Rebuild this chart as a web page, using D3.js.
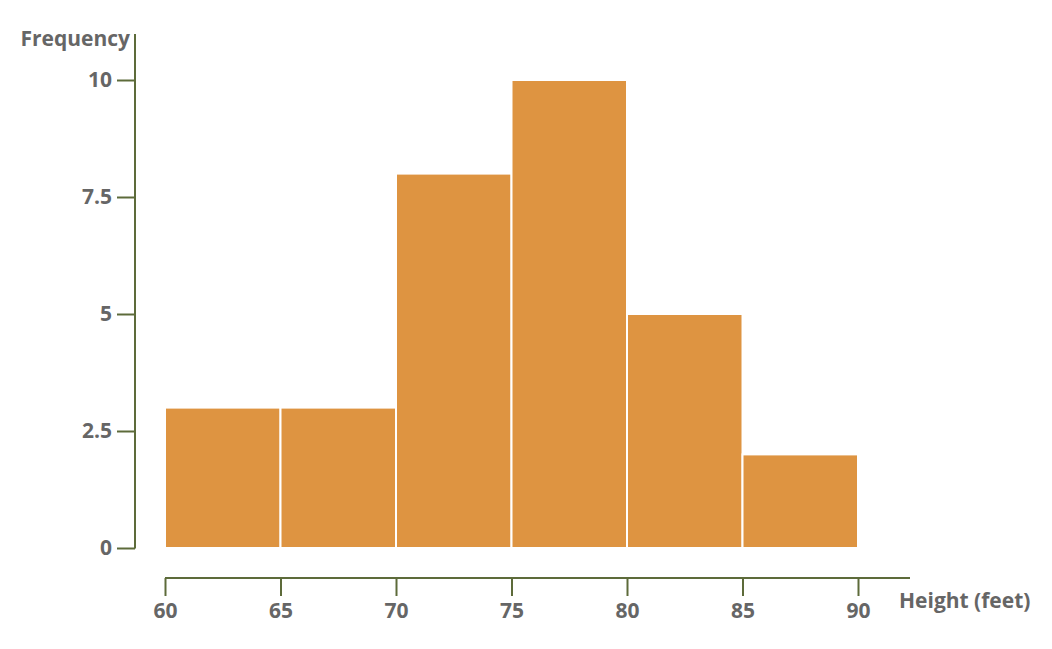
<!DOCTYPE html>
<html><head><meta charset="utf-8">
<script src="https://cdn.jsdelivr.net/npm/d3@7"></script>
<style>body{margin:0;background:#fff}svg{display:block}</style>
</head><body>
<script>
const binStarts = [60, 65, 70, 75, 80, 85];
const binWidth = 5;
const frequencies = [3, 3, 8, 10, 5, 2];
const xTicks = [60, 65, 70, 75, 80, 85, 90];
const yTicks = [0, 2.5, 5, 7.5, 10];
const yTickLabels = ["0", "2.5", "5", "7.5", "10"];

const W = 1052, H = 649;
const svg = d3.select("body").append("svg").attr("width", W).attr("height", H);
const x = d3.scaleLinear().domain([60, 90]).range([165, 858]);
const y = d3.scaleLinear().domain([0, 10]).range([548, 80]);
const axisColor = "#5d6b3a", textColor = "#666666";
const font = "'Open Sans', sans-serif";
const fs = 21;

// bars
svg.append("g").selectAll("rect").data(binStarts).join("rect")
  .attr("x", d => x(d))
  .attr("y", (d, i) => y(frequencies[i]))
  .attr("width", d => x(d + binWidth) - x(d))
  .attr("height", (d, i) => y(0) - y(frequencies[i]))
  .attr("fill", "#de9441")
  .attr("stroke", "#fff").attr("stroke-width", 2);

// y axis
const yAxis = svg.append("g").attr("transform", "translate(135,0)")
  .call(d3.axisLeft(y).tickValues(yTicks).tickFormat((d, i) => yTickLabels[i]).tickSize(18).tickPadding(5));
yAxis.select(".domain").remove();
yAxis.append("line").attr("x1", 0).attr("x2", 0).attr("y1", 34).attr("y2", 548.5);
// x axis
const xAxis = svg.append("g").attr("transform", "translate(0,578)")
  .call(d3.axisBottom(x).tickValues(xTicks).tickFormat(d3.format("d")).tickSize(18).tickPadding(7));
xAxis.select(".domain").remove();
xAxis.append("line").attr("x1", 165).attr("x2", 910).attr("y1", 0).attr("y2", 0);

svg.selectAll("g line").attr("stroke", axisColor).attr("stroke-width", 2);
svg.selectAll("g text").attr("fill", textColor).attr("font-family", font)
  .attr("font-weight", "bold").attr("font-size", fs);

svg.append("text").text("Frequency").attr("x", 130).attr("y", 46).attr("text-anchor", "end")
  .attr("fill", textColor).attr("font-family", font).attr("font-weight", "bold").attr("font-size", fs);
svg.append("text").text("Height (feet)").attr("x", 899).attr("y", 608)
  .attr("fill", textColor).attr("font-family", font).attr("font-weight", "bold").attr("font-size", fs);
</script>
</body></html>
